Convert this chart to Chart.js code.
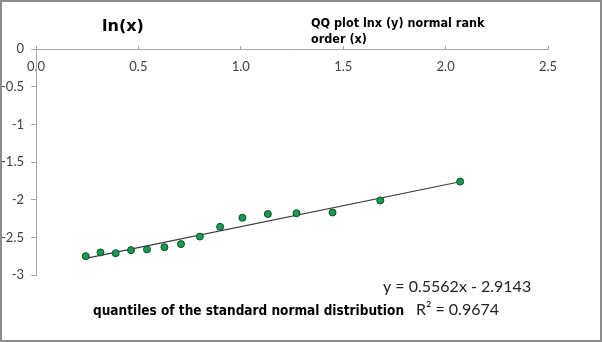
<!DOCTYPE html>
<html>
<head>
<meta charset="utf-8">
<script src="https://cdn.jsdelivr.net/npm/chart.js@4.4.1/dist/chart.umd.min.js"></script>
<style>
    html, body { margin: 0; padding: 0; background: #fff; }
    #wrap {
        position: relative;
        width: 602px;
        height: 342px;
        box-sizing: border-box;
        border: 2px solid #8c8c8c;
        overflow: hidden;
    }
    #qq-chart { position: absolute; left: -2px; top: -2px; }
</style>
</head>
<body>
<div id="wrap"><canvas id="qq-chart" width="602" height="342"></canvas></div>
<script>
// ===== Data =====
// normal rank order quantiles (x) vs ln(x) of the sample (y)
const normalQuantiles = [0.243, 0.315, 0.389, 0.464, 0.542, 0.627, 0.708, 0.800, 0.899, 1.008, 1.132, 1.272, 1.448, 1.681, 2.071];
const lnValues = [-2.75, -2.70, -2.71, -2.67, -2.66, -2.63, -2.59, -2.49, -2.36, -2.24, -2.19, -2.18, -2.17, -2.01, -1.76];

// linear trendline as reported
const trendSlope = 0.5562;
const trendIntercept = -2.9143;
const trendR2 = 0.9674;

const xTicks = [0, 0.5, 1.0, 1.5, 2.0, 2.5];
const yTicks = [0, -0.5, -1, -1.5, -2, -2.5, -3];

const chartTitle = 'ln(x)';
const sideTitle = ['QQ plot lnx (y) normal rank', 'order (x)'];
const xAxisTitle = 'quantiles of the standard normal distribution';

const AXIS_GREY = '#a6a6a6';
const TICK_TEXT = '#404040';

// ===== Build datasets =====
const points = normalQuantiles.map((x, i) => ({ x, y: lnValues[i] }));
const xMin = Math.min(...normalQuantiles);
const xMax = Math.max(...normalQuantiles);
const trendPoints = [xMin, xMax].map(x => ({ x, y: trendSlope * x + trendIntercept }));

const fmtEq = () => {
    const sign = trendIntercept < 0 ? '-' : '+';
    return `y = ${trendSlope.toFixed(4)}x ${sign} ${Math.abs(trendIntercept).toFixed(4)}`;
};

// titles and trendline labels drawn onto the canvas
const textPlugin = {
    id: 'qqText',
    afterDraw(chart) {
        const c = chart.ctx;
        c.save();
        c.fillStyle = '#000';
        c.textBaseline = 'middle';

        c.font = 'bold 16px "DejaVu Sans"';
        c.textAlign = 'center';
        c.fillText(chartTitle, 123, 27);

        c.textAlign = 'left';
        c.font = 'bold 12.5px "DejaVu Sans Condensed", "DejaVu Sans"';
        c.fillText(sideTitle[0], 311, 24);
        c.fillText(sideTitle[1], 311, 40);

        c.font = 'bold 13.5px "DejaVu Sans Condensed", "DejaVu Sans"';
        c.fillText(xAxisTitle, 93, 311);

        c.font = '16px Lato';
        c.fillStyle = '#222';
        c.fillText(fmtEq(), 383, 287);
        c.fillText(`R² = ${trendR2.toFixed(4)}`, 416, 310);
        c.restore();
    }
};

const ctx = document.getElementById('qq-chart').getContext('2d');
new Chart(ctx, {
    type: 'scatter',
    data: {
        datasets: [
            {
                label: 'ln(x)',
                data: points,
                backgroundColor: '#169b4f',
                borderColor: '#0b4d26',
                borderWidth: 1,
                pointRadius: 3.5,
                order: 1
            },
            {
                label: 'trend',
                type: 'line',
                data: trendPoints,
                borderColor: '#3a3a3a',
                borderWidth: 1.2,
                pointRadius: 0,
                fill: false,
                order: 2
            }
        ]
    },
    options: {
        responsive: false,
        animation: false,
        devicePixelRatio: 1,
        layout: { padding: { left: 0, top: 49, right: 54, bottom: 67 } },
        plugins: {
            legend: { display: false },
            tooltip: { enabled: false }
        },
        scales: {
            x: {
                type: 'linear',
                position: { y: 0 },
                min: 0,
                max: 2.5,
                afterBuildTicks: scale => { scale.ticks = xTicks.map(value => ({ value })); },
                grid: { drawOnChartArea: false, color: AXIS_GREY, tickLength: -4 },
                border: { color: AXIS_GREY, width: 1 },
                ticks: {
                    color: TICK_TEXT,
                    font: { family: 'Lato', size: 13 },
                    padding: 14,
                    maxRotation: 0,
                    autoSkip: false,
                    callback: v => Number(v).toFixed(1)
                }
            },
            y: {
                type: 'linear',
                position: 'left',
                min: -3,
                max: 0,
                afterBuildTicks: scale => { scale.ticks = yTicks.map(value => ({ value })); },
                afterFit: scale => { scale.width = 36; },
                grid: { drawOnChartArea: false, color: AXIS_GREY, tickLength: 5 },
                border: { color: AXIS_GREY, width: 1 },
                ticks: {
                    color: TICK_TEXT,
                    font: { family: 'Lato', size: 13 },
                    padding: 7,
                    autoSkip: false,
                    callback: v => String(v)
                }
            }
        }
    },
    plugins: [textPlugin]
});
</script>
</body>
</html>
